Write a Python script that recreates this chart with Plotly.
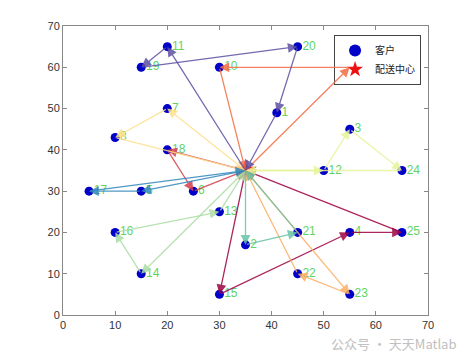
import plotly.graph_objects as go

# customer coordinates (id -> x, y)
cust_ids = list(range(1, 26))
cust_x = [41, 35, 55, 55, 15, 25, 20, 10, 55, 30, 20, 50, 30, 15, 30, 10, 5, 20, 15, 45, 45, 45, 55, 65, 65]
cust_y = [49, 17, 45, 20, 30, 30, 50, 43, 60, 60, 65, 35, 25, 10, 5, 20, 30, 40, 60, 65, 20, 10, 5, 35, 20]
depot_x = [35]
depot_y = [35]

# routes (customer ids), each starts & ends at depot
routes = [
    [15, 4, 25],
    [18, 6],
    [9, 10],
    [23, 22],
    [7, 8],
    [12, 3, 24],
    [14, 16, 13],
    [2, 21],
    [5, 17],
    [11, 19, 20, 1],
]
route_colors = ["#9e0142", "#d53e4f", "#f46d43", "#fdae61", "#fee08b",
                "#e6f598", "#abdda4", "#66c2a5", "#3288bd", "#5e4fa2"]

fig = go.Figure()

fig.add_trace(go.Scatter(x=depot_x, y=depot_y, mode="markers", name="配送中心", legendrank=2,
                         marker=dict(symbol="star", size=17, color="#ee1111")))
fig.add_trace(go.Scatter(x=cust_x, y=cust_y, mode="markers", name="客户", legendrank=1,
                         marker=dict(symbol="circle", size=9, color="#0000c8")))
fig.add_trace(go.Scatter(x=cust_x, y=cust_y, mode="markers+text", text=[str(i) for i in cust_ids],
                         textposition="middle right",
                         marker=dict(size=6, opacity=0),
                         textfont=dict(family="Arial, Liberation Sans", size=12, color="#5fd45f"),
                         showlegend=False, hoverinfo="skip"))

annotations = []
for r, col in zip(routes, route_colors):
    pts = [(depot_x[0], depot_y[0])] + [(cust_x[i - 1], cust_y[i - 1]) for i in r] + [(depot_x[0], depot_y[0])]
    for (x0, y0), (x1, y1) in zip(pts[:-1], pts[1:]):
        annotations.append(dict(x=x1, y=y1, ax=x0, ay=y0, xref="x", yref="y", axref="x", ayref="y",
                                showarrow=True, arrowhead=2, arrowsize=1.5, arrowwidth=1.3,
                                arrowcolor=col, opacity=0.85, text=""))

annotations.append(dict(x=1.082, y=-0.10, xref="paper", yref="paper", xanchor="right", yanchor="middle",
                        showarrow=False, text="公众号 · 天天Matlab",
                        font=dict(family="Noto Sans CJK SC", size=13, color="#c0c0c0")))

fig.update_layout(
    width=466, height=347,
    margin=dict(l=55, r=46, t=18, b=40),
    paper_bgcolor="white", plot_bgcolor="white",
    annotations=annotations,
    font=dict(family="Arial, Liberation Sans", size=11, color="#333333"),
    legend=dict(x=0.981, y=0.969, xanchor="right", yanchor="top",
                bgcolor="white", bordercolor="#444444", borderwidth=1,
                font=dict(family="Noto Sans CJK SC", size=10, color="#222222"),
                itemsizing="constant", tracegroupgap=0),
)
axis_common = dict(showgrid=False, zeroline=False, showline=True, linecolor="#888888", linewidth=1,
                   mirror="ticks", ticks="inside", ticklen=4, tickcolor="#888888",
                   tickfont=dict(size=11, color="#333333"))
fig.update_xaxes(range=[0, 70], tickvals=[0, 10, 20, 30, 40, 50, 60, 70], **axis_common)
fig.update_yaxes(range=[0, 70], tickvals=[0, 10, 20, 30, 40, 50, 60, 70], **axis_common)

fig.write_html("out.html")
